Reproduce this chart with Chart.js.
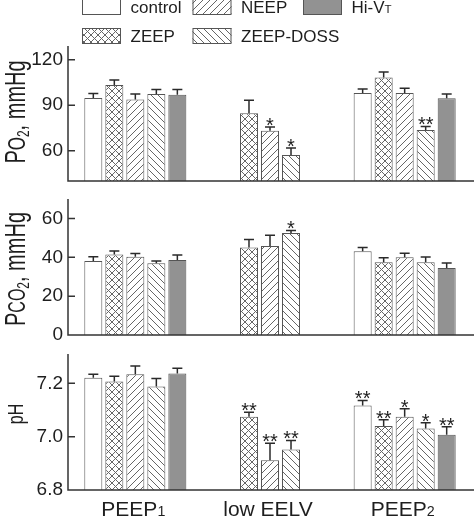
<!DOCTYPE html>
<html>
<head>
<meta charset="utf-8">
<script src="https://cdn.jsdelivr.net/npm/chart.js@4.4.1/dist/chart.umd.min.js"></script>
<style>
  html, body { margin: 0; padding: 0; background: #fff; }
  #wrap { position: relative; width: 474px; height: 518px; overflow: hidden; }
  #wrap canvas { position: absolute; left: 0; top: 0; }
</style>
</head>
<body>
<div id="wrap">
  <canvas id="po2" width="474" height="518"></canvas>
  <canvas id="pco2" width="474" height="518"></canvas>
  <canvas id="ph" width="474" height="518"></canvas>
</div>
<script>
// "_" marks a small trailing character (PEEP1, Hi-VT)
const groups = ['PEEP_1', 'low EELV', 'PEEP_2'];
const seriesNames = ['control', 'ZEEP', 'NEEP', 'ZEEP-DOSS', 'Hi-V_T'];

// rows follow seriesNames, columns follow groups
const po2Mean = [
  [94.7, null, 98.0],
  [103.3, 84.6, 108.3],
  [93.8, 73.2, 98.0],
  [97.4, 57.2, 73.6],
  [96.9, null, 94.5]
];
const po2Err = [
  [3.0, null, 2.7],
  [3.3, 8.6, 3.6],
  [3.6, 2.4, 3.1],
  [3.0, 4.6, 2.4],
  [3.5, null, 2.9]
];
const po2Sig = [
  ['', '', ''],
  ['', '', ''],
  ['', '*', ''],
  ['', '*', '**'],
  ['', '', '']
];
const po2Ticks = [60, 90, 120];

const pco2Mean = [
  [38.1, null, 43.1],
  [41.4, 45.0, 37.4],
  [40.3, 45.8, 40.0],
  [36.9, 52.5, 37.4],
  [38.6, null, 34.5]
];
const pco2Err = [
  [2.2, null, 1.9],
  [1.8, 4.2, 2.4],
  [1.7, 5.6, 2.1],
  [1.2, 1.3, 2.8],
  [2.6, null, 2.6]
];
const pco2Sig = [
  ['', '', ''],
  ['', '', ''],
  ['', '', ''],
  ['', '*', ''],
  ['', '', '']
];
const pco2Ticks = [0, 20, 40, 60];

const phMean = [
  [7.221, null, 7.117],
  [7.207, 7.075, 7.040],
  [7.234, 6.912, 7.075],
  [7.188, 6.952, 7.031],
  [7.237, null, 7.007]
];
const phErr = [
  [0.013, null, 0.019],
  [0.020, 0.017, 0.023],
  [0.031, 0.063, 0.030],
  [0.030, 0.034, 0.021],
  [0.020, null, 0.030]
];
const phSig = [
  ['', '', '**'],
  ['', '**', '**'],
  ['', '**', '*'],
  ['', '**', '*'],
  ['', '', '**']
];
const phTicks = [6.8, 7.0, 7.2];

const FONT = "'Liberation Sans', Arial, Helvetica, sans-serif";
const INK = '#1e1e1e';
const EDGE = '#555';

// hatch tiles for the patterned bars
function tile(kind) {
  const s = 7;
  const c = document.createElement('canvas');
  c.width = s; c.height = s;
  const g = c.getContext('2d');
  g.fillStyle = '#fff';
  g.fillRect(0, 0, s, s);
  g.strokeStyle = '#666';
  g.lineWidth = 1;
  const fwd = () => {
    g.beginPath();
    g.moveTo(0, s); g.lineTo(s, 0);
    g.moveTo(-1, 1); g.lineTo(1, -1);
    g.moveTo(s - 1, s + 1); g.lineTo(s + 1, s - 1);
    g.stroke();
  };
  const back = () => {
    g.beginPath();
    g.moveTo(0, 0); g.lineTo(s, s);
    g.moveTo(-1, s - 1); g.lineTo(1, s + 1);
    g.moveTo(s - 1, -1); g.lineTo(s + 1, 1);
    g.stroke();
  };
  if (kind === '/' || kind === 'x') fwd();
  if (kind === '\\' || kind === 'x') back();
  return g.createPattern(c, 'repeat');
}

const fills = ['#ffffff', tile('x'), tile('/'), tile('\\'), '#929292'];

function parts(str) {
  const k = str.indexOf('_');
  return k < 0 ? [[str, 1, 0]] : [[str.slice(0, k), 1, 0], [str.slice(k + 1), 0.68, 0]];
}

function drawParts(ctx, list, x, y, size, align) {
  const w = list.map(([t, k]) => { ctx.font = `${size * k}px ${FONT}`; return ctx.measureText(t).width; });
  const total = w.reduce((s, v) => s + v, 0);
  let cx = align === 'center' ? x - total / 2 : x;
  ctx.textAlign = 'left';
  ctx.textBaseline = 'alphabetic';
  ctx.fillStyle = INK;
  list.forEach(([t, k, dy], i) => {
    ctx.font = `${size * k}px ${FONT}`;
    ctx.fillText(t, cx, y + (dy || 0));
    cx += w[i];
  });
}

const panels = [
  {
    id: 'po2', mean: po2Mean, err: po2Err, sig: po2Sig, ticks: po2Ticks,
    min: 40, max: 129, dec: 0, top: 46, bottom: 181,
    title: [['P', 1, 0], ['O', 0.85, 0], ['2', 0.6, 3], [', mmHg', 1, 0]],
    titleSize: 20, stretch: 1.45, titleX: 25, titleShift: -1.5
  },
  {
    id: 'pco2', mean: pco2Mean, err: pco2Err, sig: pco2Sig, ticks: pco2Ticks,
    min: 0, max: 70, dec: 0, top: 199, bottom: 335,
    title: [['P', 1, 0], ['CO', 0.8, 0], ['2', 0.6, 3], [', mmHg', 1, 0]],
    titleSize: 20, stretch: 1.45, titleX: 25, titleShift: 2
  },
  {
    id: 'ph', mean: phMean, err: phErr, sig: phSig, ticks: phTicks,
    min: 6.8, max: 7.31, dec: 1, top: 354, bottom: 490,
    title: [['pH', 1, 0]],
    titleSize: 16, stretch: 1.35, titleX: 23, titleShift: -8
  }
];

function panelPlugin(p, idx) {
  return {
    id: 'panel_' + p.id,
    afterDatasetsDraw(chart) {
      const { ctx, chartArea: a } = chart;
      const y = chart.scales.y;
      ctx.save();
      // axes with inward ticks
      ctx.strokeStyle = '#333';
      ctx.lineWidth = 1.5;
      ctx.beginPath();
      ctx.moveTo(a.left, a.top);
      ctx.lineTo(a.left, a.bottom);
      ctx.lineTo(chart.width, a.bottom);
      p.ticks.forEach(v => {
        const py = y.getPixelForValue(v);
        ctx.moveTo(a.left, py);
        ctx.lineTo(a.left + 7, py);
      });
      ctx.stroke();

      // error bars (upper only) and significance marks
      chart.data.datasets.forEach((ds, i) => {
        const meta = chart.getDatasetMeta(i);
        meta.data.forEach((bar, j) => {
          const m = p.mean[i][j];
          if (m == null) return;
          const top = y.getPixelForValue(m + p.err[i][j]);
          ctx.strokeStyle = '#2a2a2a';
          ctx.lineWidth = 1.5;
          ctx.beginPath();
          ctx.moveTo(bar.x, bar.y);
          ctx.lineTo(bar.x, top);
          ctx.moveTo(bar.x - 5, top);
          ctx.lineTo(bar.x + 5, top);
          ctx.stroke();
          const s = p.sig[i][j];
          if (s) {
            ctx.fillStyle = INK;
            ctx.font = `20px ${FONT}`;
            ctx.textAlign = 'center';
            ctx.textBaseline = 'alphabetic';
            ctx.fillText(s, bar.x, top + 5);
          }
        });
      });
      ctx.restore();
    },
    afterDraw(chart) {
      const { ctx, chartArea: a } = chart;
      ctx.save();
      ctx.translate(p.titleX, (a.top + a.bottom) / 2 + p.titleShift);
      ctx.rotate(-Math.PI / 2);
      ctx.scale(1, p.stretch);
      drawParts(ctx, p.title, 0, 0, p.titleSize, 'center');
      ctx.restore();

      if (idx === 0) {
        // legend: two rows, filled column by column
        ctx.save();
        seriesNames.forEach((name, i) => {
          const col = Math.floor(i / 2), row = i % 2;
          const bx = 82 + col * 110.5, by = row ? 28 : -1;
          ctx.fillStyle = fills[i];
          ctx.fillRect(bx, by, 39, 16);
          ctx.strokeStyle = EDGE;
          ctx.lineWidth = 1;
          ctx.strokeRect(bx + 0.5, by + 0.5, 38, 15);
          drawParts(ctx, parts(name), bx + 48.5, by + 14, 17, 'left');
        });
        ctx.restore();
      }
      if (idx === 2) {
        const x = chart.scales.x;
        ctx.save();
        groups.forEach((g, i) => {
          drawParts(ctx, parts(g), x.getPixelForValue(i) - 2, 516, 21, 'center');
        });
        ctx.restore();
      }
    }
  };
}

panels.forEach((p, idx) => {
  new Chart(document.getElementById(p.id), {
    type: 'bar',
    data: {
      labels: groups,
      datasets: seriesNames.map((name, i) => ({
        label: name,
        data: p.mean[i],
        backgroundColor: fills[i],
        borderColor: EDGE,
        borderWidth: 1,
        barPercentage: 0.857,
        categoryPercentage: 0.78
      }))
    },
    options: {
      responsive: false,
      animation: false,
      events: [],
      layout: { padding: { top: p.top, bottom: 518 - p.bottom, left: 0, right: 2 } },
      plugins: { legend: { display: false }, tooltip: { enabled: false } },
      scales: {
        x: { display: false },
        y: {
          min: p.min,
          max: p.max,
          afterFit(s) { s.width = 68; },
          afterBuildTicks(s) { s.ticks = p.ticks.map(v => ({ value: v })); },
          grid: { display: false, drawTicks: false },
          border: { display: false },
          ticks: {
            padding: 5,
            color: INK,
            font: { family: FONT, size: 19 },
            callback: v => Number(v).toFixed(p.dec)
          }
        }
      }
    },
    plugins: [panelPlugin(p, idx)]
  });
});
</script>
</body>
</html>
